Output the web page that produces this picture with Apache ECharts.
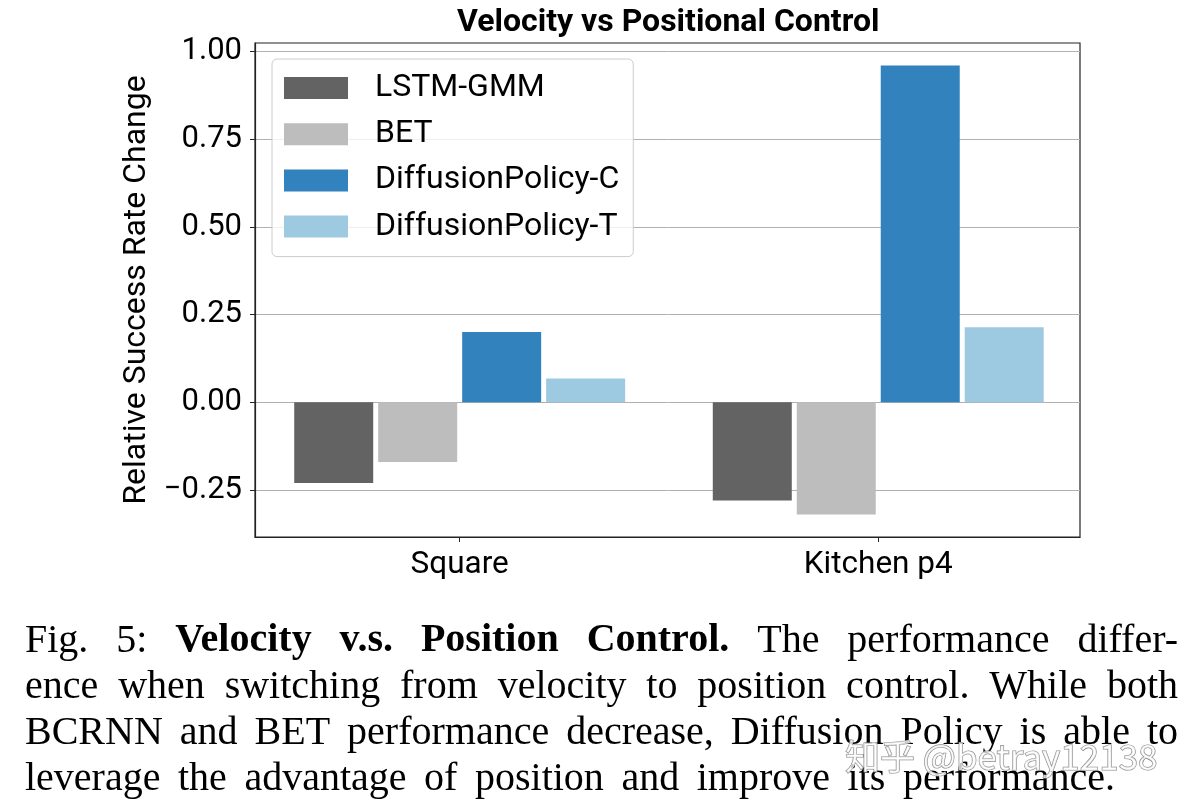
<!DOCTYPE html>
<html>
<head>
<meta charset="utf-8">
<script src="https://cdn.jsdelivr.net/npm/echarts@6/dist/echarts.min.js"></script>
<style>
html,body{margin:0;padding:0;background:#fff;}
#main{width:1191px;height:810px;}
</style>
</head>
<body>
<div id="main"></div>
<script>
// ---- data ----
const categories = ['Square', 'Kitchen p4'];
const lstmGmm = [-0.23, -0.28];
const bet = [-0.17, -0.32];
const diffusionC = [0.20, 0.96];
const diffusionT = [0.068, 0.214];
const yTicks = [-0.25, 0, 0.25, 0.5, 0.75, 1.0];
const seriesNames = ['LSTM-GMM', 'BET', 'DiffusionPolicy-C', 'DiffusionPolicy-T'];
const titleText = 'Velocity vs Positional Control';
const yAxisName = 'Relative Success Rate Change';
const watermarkText = '知乎 @betray12138';
// caption words: [text, bold]
const captionLines = [
  [['Fig.',0],['5:',0],['Velocity',1],['v.s.',1],['Position',1],['Control.',1],['The',0],['performance',0],['differ-',0]],
  [['ence',0],['when',0],['switching',0],['from',0],['velocity',0],['to',0],['position',0],['control.',0],['While',0],['both',0]],
  [['BCRNN',0],['and',0],['BET',0],['performance',0],['decrease,',0],['Diffusion',0],['Policy',0],['is',0],['able',0],['to',0]],
  [['leverage',0],['the',0],['advantage',0],['of',0],['position',0],['and',0],['improve',0],['its',0],['performance.',0]]
];

const colors = ['#636363', '#bdbdbd', '#3182bd', '#9ecae1'];
const seriesData = [lstmGmm, bet, diffusionC, diffusionT];
const sansFont = 'Roboto';
const serifFont = '"Liberation Serif", "Times New Roman", serif';
const catIndex = categories.map((c, j) => j);

// ---- caption layout (justified like the paper) ----
const measureCtx = document.createElement('canvas').getContext('2d');
function measure(text, bold, size) {
  measureCtx.font = (bold ? 'bold ' : '') + size + 'px ' + serifFont;
  return measureCtx.measureText(text).width;
}
const capSize = 40, capLeft = 25, capTop0 = 621, capStep = 46;
const capRights = [1178, 1178, 1178, 1115];
const captionGraphics = [];
captionLines.forEach((words, li) => {
  const widths = words.map(w => measure(w[0], w[1], capSize));
  const total = widths.reduce((a, b) => a + b, 0);
  const gap = (capRights[li] - capLeft - total) / (words.length - 1);
  let x = capLeft;
  words.forEach((w, i) => {
    captionGraphics.push({
      type: 'text', x: x, y: capTop0 + li * capStep, z: 10,
      style: {
        text: w[0], fill: '#000',
        font: (w[1] ? 'bold ' : '') + capSize + 'px ' + serifFont,
        verticalAlign: 'top'
      }
    });
    x += widths[i] + gap;
  });
});

const chart = echarts.init(document.getElementById('main'), null, {renderer: 'canvas'});
const option = {
  animation: false,
  backgroundColor: '#fff',
  title: {
    text: titleText, left: 457, top: 7, padding: 0,
    textStyle: {fontFamily: sansFont, fontSize: 32, fontWeight: 'bold', color: '#000'}
  },
  legend: {
    orient: 'vertical', left: 272, top: 59, padding: [13, 14, 14, 12],
    itemWidth: 64, itemHeight: 22, itemGap: 14.2, icon: 'rect',
    backgroundColor: 'rgba(255,255,255,0.8)', borderColor: '#cccccc', borderWidth: 1, borderRadius: 5,
    textStyle: {fontFamily: sansFont, fontSize: 32, color: '#000', lineHeight: 31, padding: [0, 0, 0, 22]},
    data: seriesNames
  },
  grid: {
    left: 255, right: 111, top: 43, bottom: 273,
    show: true, borderColor: '#222', borderWidth: 1.2, backgroundColor: 'transparent',
    containLabel: false
  },
  xAxis: {
    type: 'value', min: -0.489, max: 1.482,
    axisLine: {show: true, onZero: false, lineStyle: {color: '#222', width: 1.2}},
    axisTick: {show: true, length: 5, customValues: catIndex, lineStyle: {color: '#222'}},
    axisLabel: {
      customValues: catIndex,
      formatter: v => categories[Math.round(v)] || '',
      fontFamily: sansFont, fontSize: 31.5, color: '#000', margin: 12
    },
    splitLine: {show: false}
  },
  yAxis: {
    type: 'value', min: -0.384, max: 1.024,
    name: yAxisName, nameLocation: 'middle', nameGap: 94,
    nameTextStyle: {fontFamily: sansFont, fontSize: 32, color: '#000'},
    axisLine: {show: true, onZero: false, lineStyle: {color: '#222', width: 1.2}},
    axisTick: {show: true, length: 5, customValues: yTicks, lineStyle: {color: '#222'}},
    axisLabel: {
      customValues: yTicks,
      formatter: v => v.toFixed(2).replace('-', '\u2212'),
      fontFamily: sansFont, fontSize: 31, color: '#000', margin: 13
    },
    splitLine: {show: true, lineStyle: {color: '#b0b0b0', width: 1}}
  },
  series: seriesNames.map((name, i) => ({
    name: name, type: 'bar',
    data: catIndex.map(j => [j, seriesData[i][j]]),
    barWidth: 79, barGap: '6.3%',
    itemStyle: {color: colors[i]}
  })),
  graphic: captionGraphics.concat([{
    type: 'text', x: 845, y: 757, z: 20,
    style: {
      text: watermarkText, font: '35px "Noto Sans CJK SC", sans-serif',
      fill: 'rgba(255,255,255,0.75)', stroke: '#8a8a8a', lineWidth: 1.2,
      verticalAlign: 'middle'
    }
  }])
};
chart.setOption(option);
</script>
</body>
</html>
